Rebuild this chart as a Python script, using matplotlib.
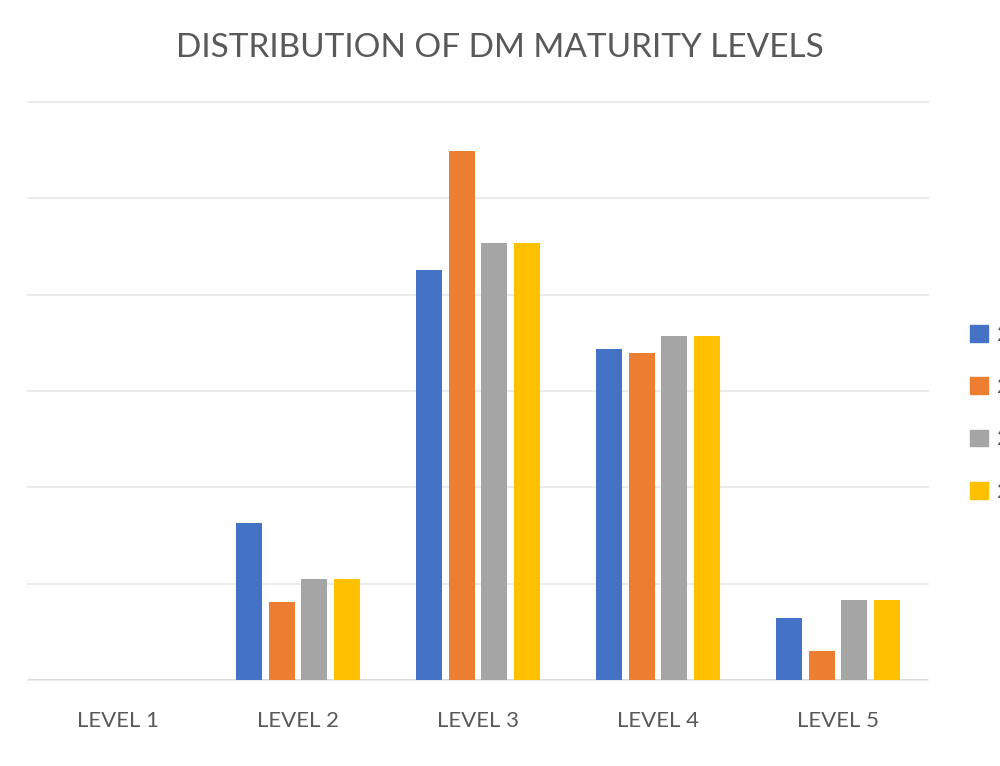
import numpy as np
import matplotlib.pyplot as plt
from matplotlib.patches import Patch

# data (percent of respondents per maturity level)
levels = ['LEVEL 1', 'LEVEL 2', 'LEVEL 3', 'LEVEL 4', 'LEVEL 5']
series_names = ['2017', '2018', '2019', '2020']
vals_a = [0, 16.3, 42.6, 34.4, 6.5]
vals_b = [0, 8.1, 54.9, 33.9, 3.0]
vals_c = [0, 10.5, 45.4, 35.7, 8.3]
vals_d = [0, 10.5, 45.4, 35.7, 8.3]
colors = ['#4472C4', '#ED7D31', '#A5A5A5', '#FFC000']

plt.rcParams['font.family'] = ['Lato', 'DejaVu Sans']

fig = plt.figure(figsize=(10, 7.66), dpi=100)
ax = fig.add_axes([0.028, 0.112, 0.9, 0.755])

x = np.arange(len(levels))
width = 0.144
pitch = 0.18
all_vals = [vals_a, vals_b, vals_c, vals_d]
for i, v in enumerate(all_vals):
    ax.bar(x + (i - 1.5) * pitch, v, width, color=colors[i], zorder=3)

ax.set_xlim(-0.5, 4.5)
ax.set_ylim(0, 60)
ax.set_yticks(np.arange(0, 61, 10))
ax.yaxis.grid(True, color='#e9e9e9', linewidth=1.3, zorder=0)
ax.set_axisbelow(True)
for sp in ax.spines.values():
    sp.set_visible(False)
ax.axhline(0, color='#d9d9d9', linewidth=1.3, zorder=2)
ax.tick_params(axis='y', left=False, labelleft=False)
ax.tick_params(axis='x', bottom=False, pad=19)
ax.set_xticks(x)
ax.set_xticklabels(levels, fontsize=16, color='#595959')
for line in ax.get_ygridlines():
    line.set_clip_on(False)

fig.text(0.5, 0.937, 'DISTRIBUTION OF DM MATURITY LEVELS', ha='center', va='center',
         fontsize=24, color='#595959')

handles = [Patch(color=c) for c in colors]
fig.legend(handles, series_names, loc='upper left', bbox_to_anchor=(0.962, 0.587),
           frameon=False, fontsize=15, labelcolor='#595959', handlelength=0.85,
           handleheight=0.85, labelspacing=1.55, handletextpad=0.45, borderaxespad=0)

fig.savefig('out.png', dpi=100)
